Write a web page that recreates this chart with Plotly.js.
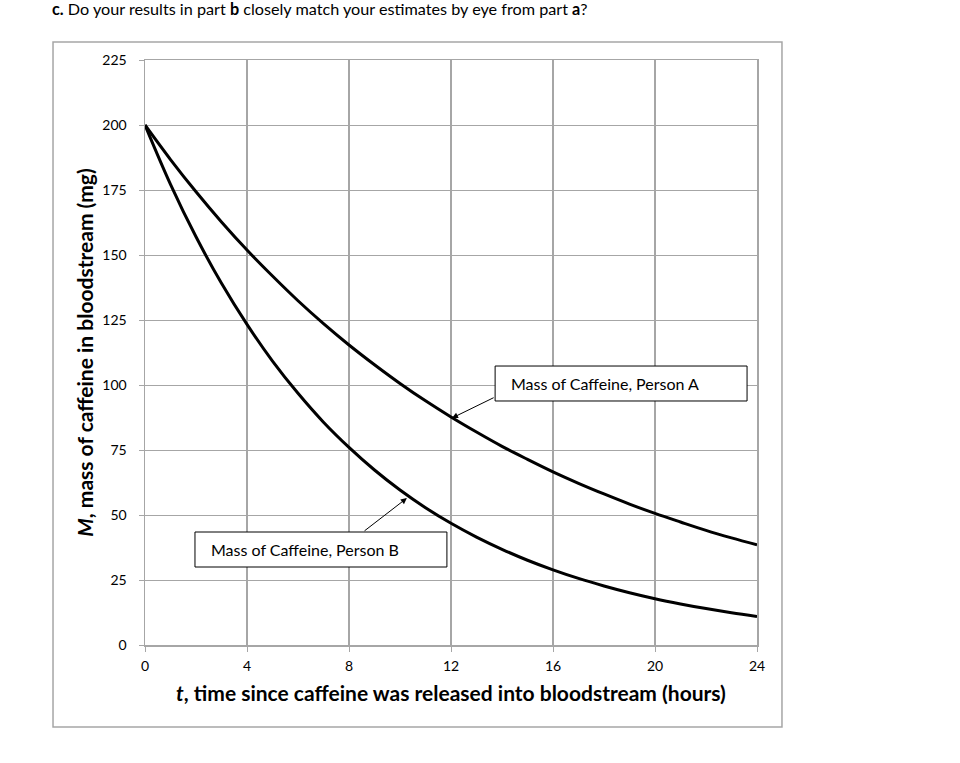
<!DOCTYPE html>
<html>
<head>
<meta charset="utf-8">
<script src="https://cdn.plot.ly/plotly-3.0.1.min.js"></script>
<style>
html,body{margin:0;padding:0;background:#fff;}
#chart{width:960px;height:763px;}
</style>
</head>
<body>
<div id="chart"></div>
<script>
// Hours since caffeine released
var hours = [0,1,2,3,4,5,6,7,8,9,10,11,12,13,14,15,16,17,18,19,20,21,22,23,24];
// Mass of caffeine (mg), Person A
var massA = [200,186.7,174.3,162.7,151.9,141.9,132.4,123.6,115.4,107.8,100.6,93.9,87.7,81.9,76.4,71.4,66.6,62.2,58.1,54.2,50.6,47.3,44.1,41.2,38.5];
// Mass of caffeine (mg), Person B
var massB = [200,177.2,157.0,139.1,123.3,109.2,96.8,85.7,76.0,67.3,59.6,52.8,46.8,41.5,36.8,32.6,28.9,25.6,22.7,20.1,17.8,15.8,14.0,12.4,11.0];
var xTicks = [0,4,8,12,16,20,24];
var yTicks = [0,25,50,75,100,125,150,175,200,225];

var FONT = 'Lato, "Open Sans", sans-serif';
var gridCol = '#a6a6a6';

var traces = [
  {x: hours, y: massA, mode: 'lines', line: {color: '#000', width: 3, shape: 'spline'}, name: 'Person A', hoverinfo: 'x+y'},
  {x: hours, y: massB, mode: 'lines', line: {color: '#000', width: 3, shape: 'spline'}, name: 'Person B', hoverinfo: 'x+y'}
];

var layout = {
  width: 960, height: 763,
  margin: {l: 145, r: 203, t: 60, b: 118, pad: 0},
  paper_bgcolor: '#fff', plot_bgcolor: '#fff',
  showlegend: false,
  font: {family: FONT, color: '#000'},
  title: {
    text: '<b>c.</b> Do your results in part <b>b</b> closely match your estimates by eye from part <b>a</b>?',
    xref: 'container', yref: 'container', x: 52/960, xanchor: 'left', y: 1 - 4/763, yanchor: 'top',
    font: {family: FONT, size: 16.2, color: '#000'}
  },
  xaxis: {
    range: [0, 24], tickvals: xTicks, ticktext: xTicks.map(String),
    showgrid: true, gridcolor: gridCol, gridwidth: 1.5,
    zeroline: false, showline: true, linecolor: gridCol, linewidth: 1.5, mirror: true,
    ticks: 'outside', ticklen: 5, tickcolor: gridCol, tickwidth: 1,
    ticklabelstandoff: 3,
    tickfont: {family: FONT, size: 14, color: '#000'},
    title: {text: '<b><i>t</i>, time since caffeine was released into bloodstream (hours)</b>', standoff: 13,
            font: {family: FONT, size: 21, color: '#000'}}
  },
  yaxis: {
    range: [0, 225], tickvals: yTicks, ticktext: yTicks.map(String),
    showgrid: true, gridcolor: gridCol, gridwidth: 1,
    zeroline: false, showline: true, linecolor: gridCol, linewidth: 1.5, mirror: true,
    ticks: 'outside', ticklen: 5, tickcolor: gridCol, tickwidth: 1,
    ticklabelstandoff: 9,
    tickfont: {family: FONT, size: 14, color: '#000'},
    title: {text: '<b><i>M</i>, mass of caffeine in bloodstream (mg)</b>', standoff: 3,
            font: {family: FONT, size: 21, color: '#000'}}
  },
  shapes: [
    {type: 'rect', xref: 'paper', yref: 'paper', x0: -0.1503, x1: 1.0408, y0: -0.1402, y1: 1.0308,
     line: {color: '#a6a6a6', width: 1.5}, fillcolor: 'rgba(0,0,0,0)', layer: 'below'},
    {type: 'rect', xref: 'x', yref: 'y', x0: 13.73, x1: 23.61, y0: 93.85, y1: 107.3,
     line: {color: '#000', width: 1}, fillcolor: '#fff', layer: 'above'},
    {type: 'rect', xref: 'x', yref: 'y', x0: 1.96, x1: 11.84, y0: 30.0, y1: 43.46,
     line: {color: '#000', width: 1}, fillcolor: '#fff', layer: 'above'}
  ],
  annotations: [
    {x: 14.27, y: 100.6, xref: 'x', yref: 'y', text: 'Mass of Caffeine, Person A', showarrow: false,
     xanchor: 'left', yanchor: 'middle', font: {family: FONT, size: 16, color: '#000'}},
    {x: 2.51, y: 36.7, xref: 'x', yref: 'y', text: 'Mass of Caffeine, Person B', showarrow: false,
     xanchor: 'left', yanchor: 'middle', font: {family: FONT, size: 16, color: '#000'}},
    {x: 12.04, y: 87.3, ax: 13.73, ay: 95.4, xref: 'x', yref: 'y', axref: 'x', ayref: 'y', text: '',
     showarrow: true, arrowhead: 2, arrowsize: 1.2, arrowwidth: 1, arrowcolor: '#000'},
    {x: 10.27, y: 56.5, ax: 8.55, ay: 43.46, xref: 'x', yref: 'y', axref: 'x', ayref: 'y', text: '',
     showarrow: true, arrowhead: 2, arrowsize: 1.2, arrowwidth: 1, arrowcolor: '#000'}
  ]
};

Plotly.newPlot('chart', traces, layout, {displayModeBar: false, staticPlot: true});
</script>
</body>
</html>
